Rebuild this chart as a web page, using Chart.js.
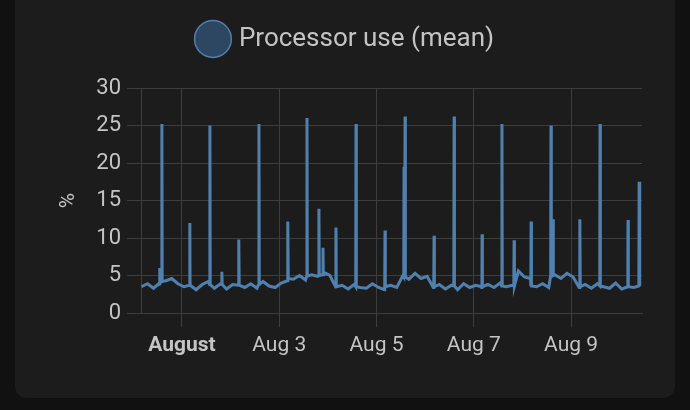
<!DOCTYPE html>
<html><head><meta charset="utf-8">
<script src="https://cdn.jsdelivr.net/npm/chart.js@4/dist/chart.umd.min.js"></script>
<style>
html,body{margin:0;padding:0;background:#111111;width:690px;height:410px;overflow:hidden;font-family:Roboto,sans-serif}
#card{position:absolute;left:15px;top:-20px;width:660px;height:418px;background:#1c1c1c;border-radius:12px}
#wrap{position:absolute;left:0;top:0;width:690px;height:410px}
</style></head><body>
<div id="card"></div>
<div id="wrap"><canvas id="c"></canvas></div>
<script>
// hours relative to Aug 1 00:00; baseline every 3 hours starting at -20
const baseStart = -20, baseStep = 3;
const baseValues = [3.5,3.9,3.3,3.7, 4.3,4.6,3.9, 3.5,4.1,3.1,3.8,4.2,3.3,3.9,3.2,3.8,4.1,3.4,3.9,3.3,4.2,3.6,3.4,4.0,4.3,
  4.5,5.0,4.4,5.1,4.9,5.4,5.0, 3.3,3.7,3.2,3.8,3.4,3.3,3.9,3.4,3.1,3.7,3.4,
  5.0,4.5,5.3,4.6,4.9, 3.4,3.8,3.2,3.7,3.1,3.9,3.4,3.7,3.2,3.8,3.4,4.0,3.5,3.7,
  5.6,4.8,4.6, 3.5,3.9,3.4, 5.1,4.6,5.3,4.8, 3.4,3.8,3.3,3.9,3.5,3.3,4.0,3.2,3.7,3.4, 5.4];
const spikeHours = [-10.9,-9.9,3.9,13.8,19.7,28.1,38.0,52.3,61.7,67.6,69.6,76.0,85.9,100.2,109.6,110.1,124.4,134.3,148.1,157.9,163.9,172.3,182.1,183.1,196.4,206.3,220.1,225.6];
const spikeValues = [6.0,25.2,12.0,25.0,5.5,9.8,25.2,12.2,26.0,13.9,8.7,11.4,25.2,11.0,19.5,26.2,10.3,26.2,10.5,25.2,9.7,12.2,25.0,12.5,12.5,25.2,12.4,17.5];
const spikeBase = [4.0,4.2,3.7,3.8,3.8,3.7,3.8,4.6,4.9,5.0,5.1,3.5,3.5,3.5,4.8,4.8,3.5,3.6,3.5,3.6,3.6,3.6,5.0,5.0,3.5,3.6,3.5,3.6];
const dayTicks = [0,48,96,144,192];
const dayLabels = ['August','Aug 3','Aug 5','Aug 7','Aug 9'];

const pts = baseValues.map((v,i)=>({x:baseStart+baseStep*i,y:v}));
spikeHours.forEach((h,i)=>{
  pts.push({x:h-0.15,y:spikeBase[i]},{x:h,y:spikeValues[i]},{x:h+0.15,y:spikeBase[i]});
});
pts.sort((a,b)=>a.x-b.x);

const txt='#c4c4c4', grid='#3d3d3d';
const legendFix={id:'legendFix',beforeUpdate(chart){
  const lg=chart.legend; if(lg && !lg._p){const f=lg.fit; lg.fit=function(){f.call(this);this.height=88;}; lg._p=true;}
}};
new Chart(document.getElementById('c'),{
  type:'line',
  data:{datasets:[{label:'Processor use (mean)',data:pts,borderColor:'#4f80b0',backgroundColor:'#2d4763',
    borderWidth:3,pointRadius:0,tension:0,fill:false}]},
  options:{responsive:true,maintainAspectRatio:false,animation:false,
    layout:{padding:{left:52,right:48,top:0,bottom:40}},
    plugins:{legend:{labels:{color:txt,font:{family:'Roboto',size:26},usePointStyle:true,pointStyle:'circle',boxWidth:29,boxHeight:29,padding:26,
      generateLabels:(c)=>[{text:'Processor use (mean)',fillStyle:'#2d4763',strokeStyle:'#4f80b0',lineWidth:1.5,pointStyle:'circle',fontColor:txt}]}},
      tooltip:{enabled:false}},
    scales:{
      x:{type:'linear',min:-20.2,max:227,
        afterBuildTicks:(s)=>{s.ticks=dayTicks.map(v=>({value:v}));},
        afterFit:(s)=>{s.height=57;},
        grid:{color:grid,tickLength:14,tickColor:grid},border:{color:grid},
        ticks:{color:txt,padding:6,maxRotation:0,autoSkip:false,
          font:(ctx)=>({family:'Roboto',size:21,weight:ctx.index===0?'bold':'normal'}),
          callback:(v,i)=>dayLabels[i]}},
      y:{min:0,max:30,
        afterFit:(s)=>{s.width=89;},
        grid:{color:grid,tickLength:14,tickColor:grid},border:{color:grid},
        ticks:{stepSize:5,color:txt,padding:6,font:{family:'Roboto',size:22}},
        title:{display:true,text:'%',color:txt,font:{family:'Roboto',size:21},padding:{bottom:6}}}
    }},
  plugins:[legendFix]
});
</script></body></html>
